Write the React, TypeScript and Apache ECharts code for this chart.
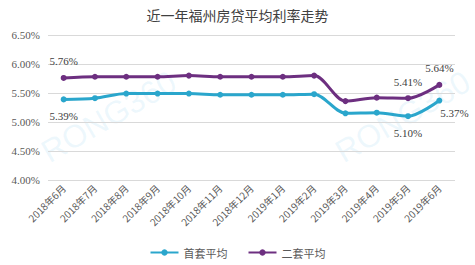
import React, { useEffect, useRef } from "react";
import * as echarts from "echarts";

const categories = ["2018年6月","2018年7月","2018年8月","2018年9月","2018年10月","2018年11月","2018年12月","2019年1月","2019年2月","2019年3月","2019年4月","2019年5月","2019年6月"];
const firstHome = [5.39, 5.41, 5.49, 5.49, 5.49, 5.47, 5.47, 5.47, 5.48, 5.15, 5.16, 5.10, 5.37];
const secondHome = [5.76, 5.78, 5.78, 5.78, 5.80, 5.78, 5.78, 5.78, 5.80, 5.36, 5.42, 5.41, 5.64];
const labelIdx1 = [0, 11, 12];
const labelIdx2 = [0, 11, 12];

export default function App() {
  const ref = useRef<HTMLDivElement>(null);
  useEffect(() => {
    const chart = echarts.init(ref.current!, null, { renderer: "svg" });
    const fontFam = "'Liberation Serif', 'Noto Sans CJK SC', serif";
    const wm = { text: "RONG360", fontSize: 32, fill: "rgba(140,210,240,0.16)", fontFamily: "Liberation Sans, sans-serif" };
    chart.setOption({
      animation: false,
      title: {
        text: "近一年福州房贷平均利率走势",
        left: "center",
        top: 3,
        textStyle: { fontSize: 14, fontWeight: "normal", color: "#404040", fontFamily: "'Noto Sans CJK SC', serif" },
      },
      graphic: [
        { type: "text", x: 36, y: 140, rotation: Math.PI / 6, style: wm, z: 0 },
        { type: "text", x: 330, y: 140, rotation: Math.PI / 6, style: wm, z: 0 },
      ],
      legend: {
        bottom: 2,
        left: "center",
        itemWidth: 28,
        itemHeight: 8,
        itemGap: 20,
        textStyle: { fontSize: 11, color: "#595959", fontFamily: "'Noto Sans CJK SC', serif" },
        data: ["首套平均", "二套平均"],
      },
      grid: { left: 48, right: 20, top: 35, bottom: 85 },
      xAxis: {
        type: "category",
        data: categories,
        boundaryGap: true,
        axisLine: { show: false },
        axisTick: { show: false },
        axisLabel: { rotate: 45, fontSize: 10, color: "#595959", margin: 6, interval: 0, fontFamily: "'Noto Sans CJK SC', serif" },
      },
      yAxis: {
        type: "value",
        min: 4.0,
        max: 6.5,
        interval: 0.5,
        axisLine: { show: false },
        axisTick: { show: false },
        splitLine: { lineStyle: { color: "#d9d9d9" } },
        axisLabel: {
          fontSize: 11,
          color: "#595959",
          fontFamily: fontFam,
          formatter: (v: number) => v.toFixed(2) + "%",
        },
      },
      series: [
        {
          name: "首套平均",
          type: "line",
          data: firstHome.map((v, i) => ({
            value: v,
            label: labelIdx1.includes(i)
              ? { show: true, position: i === 12 ? [4, 10] : "bottom", distance: 8 }
              : { show: false },
          })),
          smooth: 0.3,
          symbol: "circle",
          symbolSize: 6,
          lineStyle: { width: 3, color: "#2aa6cc" },
          itemStyle: { color: "#2aa6cc" },
          label: { fontSize: 11, color: "#404040", fontFamily: fontFam, formatter: (p: any) => p.value.toFixed(2) + "%" },
        },
        {
          name: "二套平均",
          type: "line",
          data: secondHome.map((v, i) => ({
            value: v,
            label: labelIdx2.includes(i) ? { show: true, position: "top", distance: 8 } : { show: false },
          })),
          smooth: 0.3,
          symbol: "circle",
          symbolSize: 6,
          lineStyle: { width: 3, color: "#6d2f80" },
          itemStyle: { color: "#6d2f80" },
          label: { fontSize: 11, color: "#404040", fontFamily: fontFam, formatter: (p: any) => p.value.toFixed(2) + "%" },
        },
      ],
    });
    return () => chart.dispose();
  }, []);
  return <div ref={ref} style={{ width: 475, height: 265, position: "absolute", left: 0, top: 0 }} />;
}
